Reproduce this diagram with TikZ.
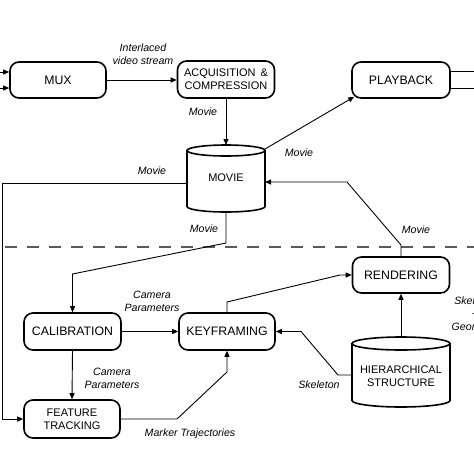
\documentclass[tikz,border=0pt]{standalone}
\usepackage{fontspec}
\setmainfont{Liberation Sans}
\usetikzlibrary{arrows.meta}
\newcommand\mycyl[5]{% cx, cy, half width, half height, ry
  \draw[cylline] (#1-#3,#2-#4+#5) -- (#1-#3,#2+#4-#5)
     arc[start angle=180,end angle=360,x radius=#3pt,y radius=#5pt]
     -- (#1+#3,#2-#4+#5);
  \draw[cylline] (#1,#2-#4+#5) ellipse [x radius=#3pt, y radius=#5pt];
}
\begin{document}
\begin{tikzpicture}[x=1pt,y=-1pt,
  box/.style={draw, line width=1.6pt, rounded corners=9pt, align=center,
    font=\fontsize{12.3}{13.5}\selectfont, inner sep=0pt},
  boxtwo/.style={box, font=\fontsize{11}{13}\selectfont},
  cylline/.style={line width=1.6pt},
  lbl/.style={font=\fontsize{10.6}{12.8}\selectfont\itshape, align=center, inner sep=0pt},
  conn/.style={line width=0.9pt, -{Triangle[length=6pt,width=5pt]}},
  plain/.style={line width=0.9pt}
]
\useasboundingbox (0,0) rectangle (474,474);

% boxes
\node[box, minimum width=96, minimum height=36] (mux) at (58,80) {MUX};
\node[boxtwo, minimum width=97, minimum height=37] (acq) at (226,79.5) {ACQUISITION \,\&\\COMPRESSION};
\node[box, minimum width=98, minimum height=36] (pb) at (401,80) {PLAYBACK};
\node[box, minimum width=97, minimum height=36] (ren) at (401,275) {RENDERING};
\node[box, minimum width=97, minimum height=37] (cal) at (72.5,331.5) {CALIBRATION};
\node[box, minimum width=96, minimum height=37] (key) at (227,331.5) {KEYFRAMING};
\node[boxtwo, minimum width=96, minimum height=38] (ft) at (72,419) {FEATURE\\TRACKING};

% cylinders
\mycyl{226}{178.5}{39}{33.5}{5.5}
\node[inner sep=0, font=\fontsize{11}{13}\selectfont] (movie) at (226,178) {MOVIE};
\mycyl{401}{372}{49}{35}{6.5}
\node[inner sep=0, align=center, font=\fontsize{11}{13}\selectfont] (hs) at (401,376) {HIERARCHICAL\\STRUCTURE};

% named points
\coordinate (in1) at (0,72);
\coordinate (in2) at (0,88);
\coordinate (out1) at (474,71);
\coordinate (out2) at (474,88);
\coordinate (mtop) at (226,145);
\coordinate (mtr) at (265,149);
\coordinate (mleft) at (187,183);
\coordinate (mright) at (265,182);
\coordinate (mbot) at (226,212);
\coordinate (hstop) at (401,337);
\coordinate (hsleft) at (352,375);
\coordinate (dl) at (5,247);
\coordinate (dr) at (474,247);

% dashed separator
\draw[line width=2.2pt, gray!70!black, dash pattern=on 12pt off 10pt] (dl) -- (dr);

% connectors
\draw[conn] (in1) -- (in1 -| mux.west);
\draw[conn] (in2) -- (in2 -| mux.west);
\draw[conn] (mux.east) -- (mux.east -| acq.west);
\draw[conn] (acq.south) -- (mtop);
\draw[conn] (mtr) -- ([xshift=3pt,yshift=2pt]pb.south west);
\draw[plain] (out1 -| pb.east) -- (out1);
\draw[plain] (out2 -| pb.east) -- (out2);
\draw[conn] (mleft) -- (2,183) -- (2,419) -- (ft.west);
\draw[conn] (mbot) -- (226,243) -- (72.5,274) -- (cal.north);
\draw[conn] (ren.north) -- (401,245) -- (347,182) -- (mright);
\draw[conn] (cal.east) -- (key.west);
\draw[conn] (cal.south) -- (ft.north);
\draw[conn] (ft.east) -- (177,419) -- (227,372) -- (key.south);
\draw[conn] (hsleft) -- (338,375) -- (301,331.5) -- (key.east);
\draw[conn] (hstop) -- (ren.south);
\draw[conn] (key.north) -- (227,302) -- (340,275) -- (ren.west);

% labels
\node[lbl] (l1) at (143,54.5) {Interlaced\\video stream};
\node[lbl] (l2) at (203,112) {Movie};
\node[lbl] (l3) at (299,153) {Movie};
\node[lbl] (l4) at (152,171) {Movie};
\node[lbl] (l5) at (204,229) {Movie};
\node[lbl] (l6) at (416,230) {Movie};
\node[lbl] (l7) at (152,301.5) {Camera\\Parameters};
\node[lbl] (l8) at (112,378.5) {Camera\\Parameters};
\node[lbl] (l9) at (190,434) {Marker Trajectories};
\node[lbl] (l10) at (319,385) {Skeleton};
\node[lbl] (l11) at (475,315) {Skeleton\\+\\Geometry};
\end{tikzpicture}
\end{document}
